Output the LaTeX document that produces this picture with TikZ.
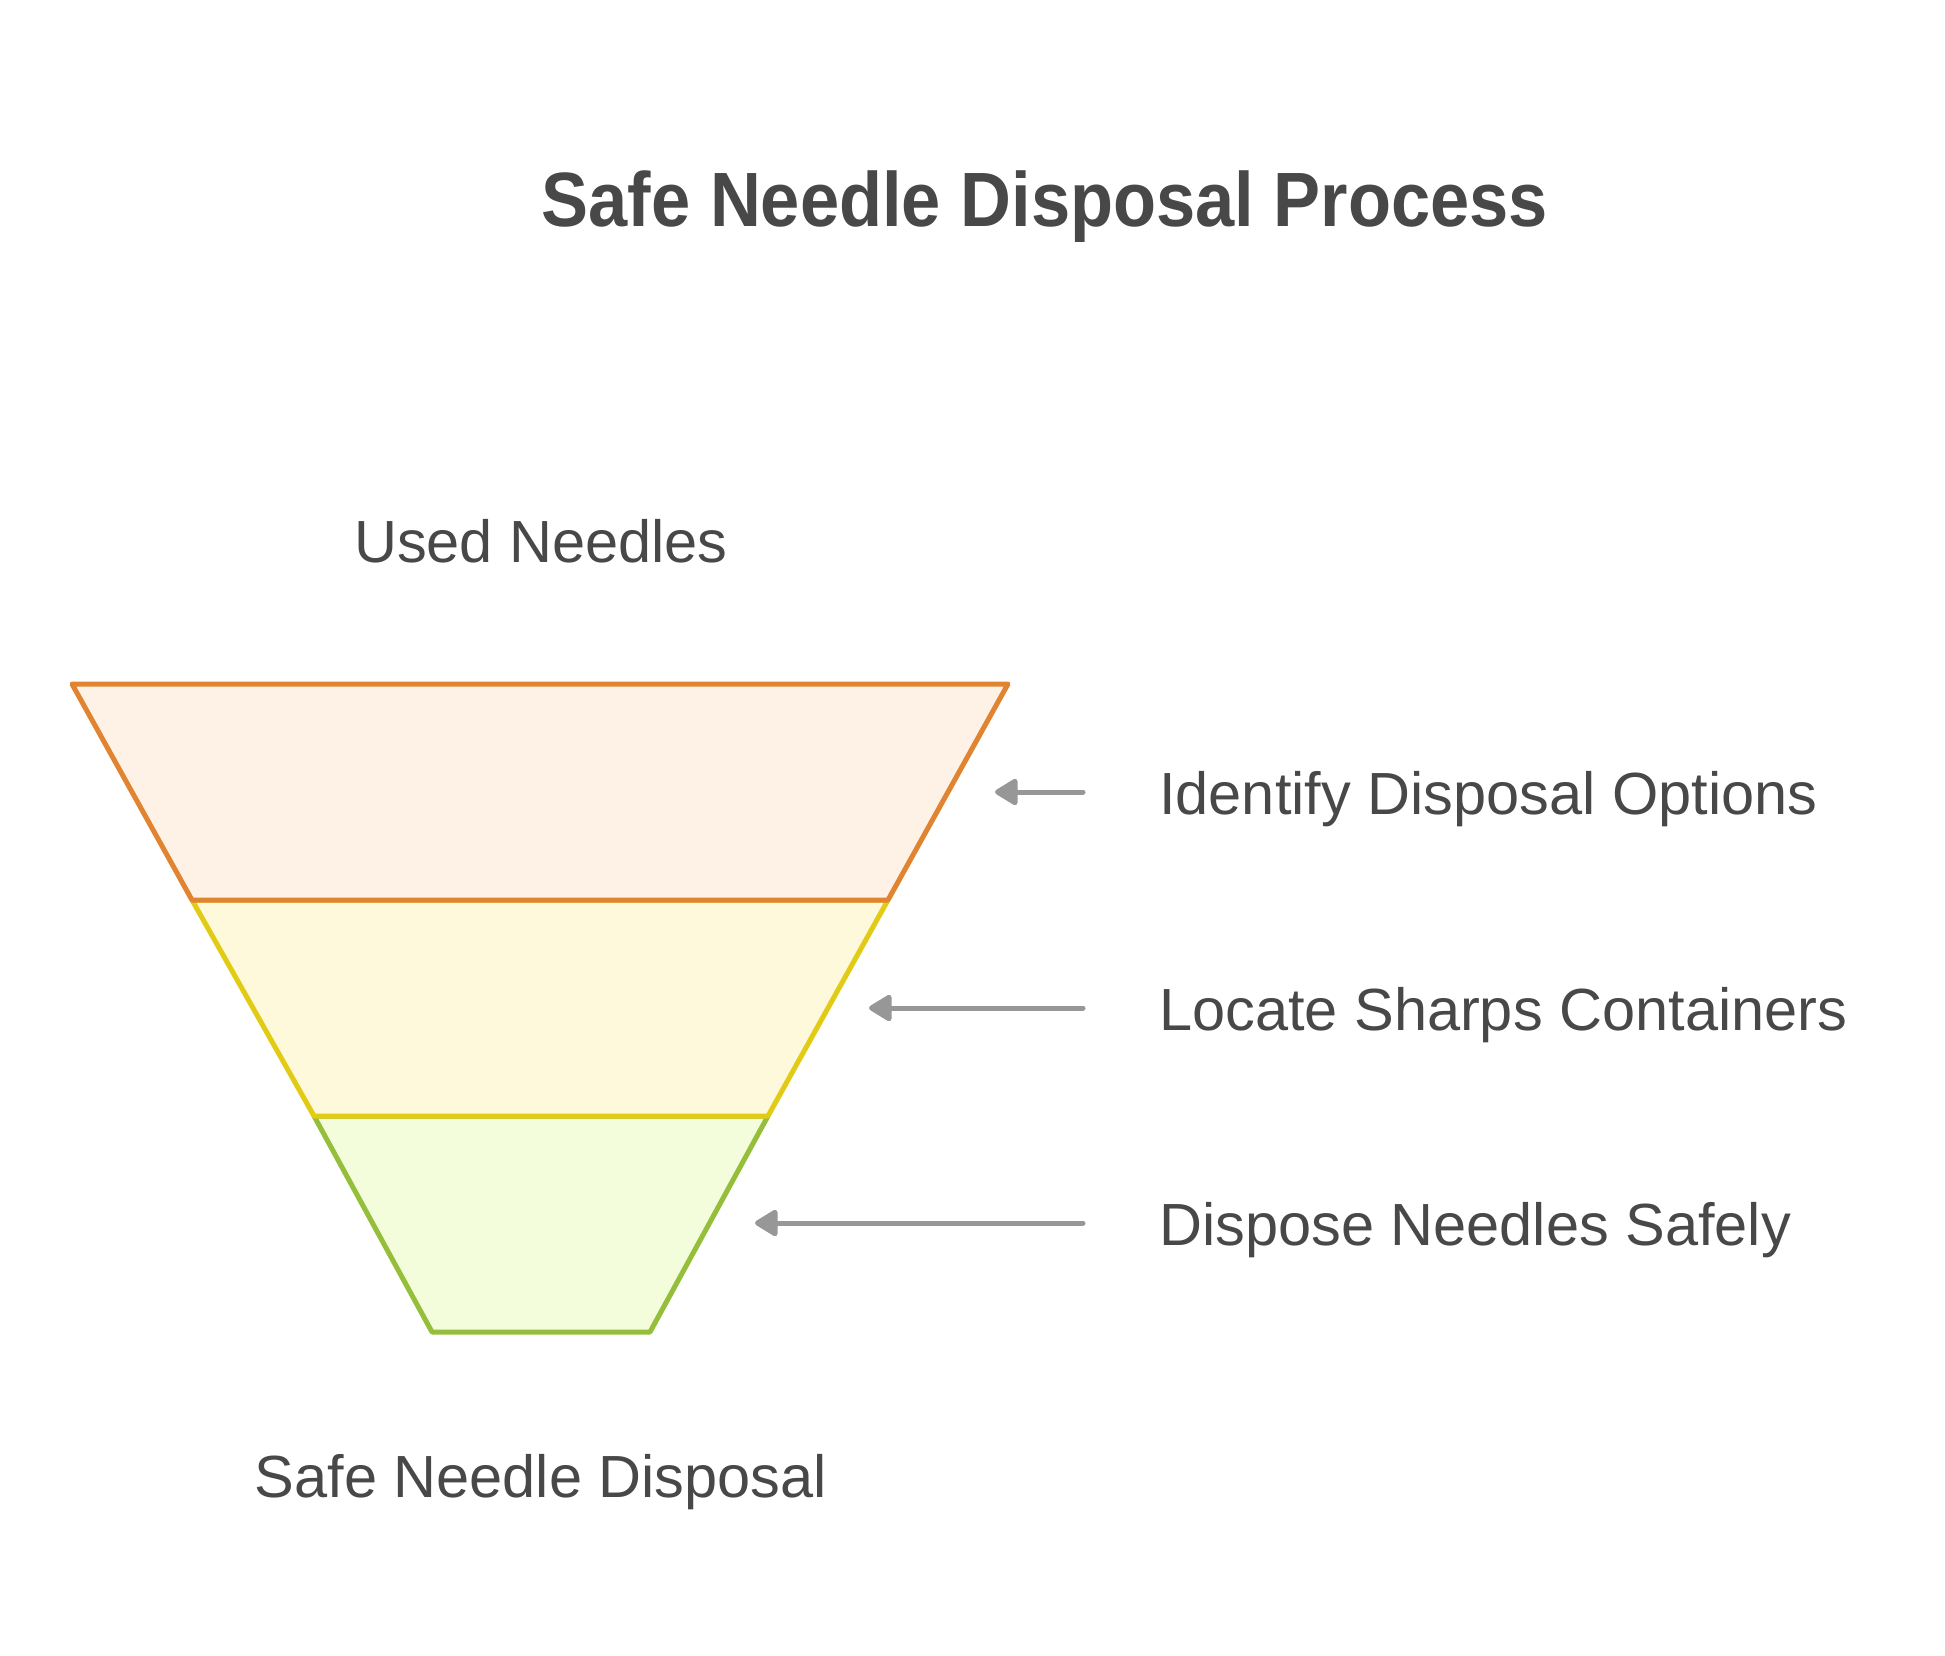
\documentclass[tikz,border=0pt]{standalone}
\usepackage{fontspec}
\setmainfont{Liberation Sans}
\usetikzlibrary{arrows.meta}
\definecolor{txt}{HTML}{484848}
\definecolor{arr}{HTML}{979797}
\definecolor{orS}{HTML}{E08431}
\definecolor{orF}{HTML}{FEF2E6}
\definecolor{yeS}{HTML}{E2CB14}
\definecolor{yeF}{HTML}{FEF9DB}
\definecolor{grS}{HTML}{95BE3B}
\definecolor{grF}{HTML}{F3FDDB}
\tikzset{
  band/.style={line width=5pt, line join=round},
  lbl/.style={inner sep=0pt, text=txt, font=\fontsize{59.5}{70}\selectfont},
  ttl/.style={inner sep=0pt, text=txt, font=\fontsize{77}{90}\selectfont\bfseries},
  conn/.style={draw=arr, line width=5pt, line cap=round, -{Triangle[length=25pt,width=29pt,round]}}
}
\begin{document}
\begin{tikzpicture}[x=1pt,y=-1pt]
\useasboundingbox (0,0) rectangle (1945,1656);
% funnel bands (bottom first so upper outlines lie on top)
\draw[band, draw=grS, fill=grF] (314,1116) -- (768,1116) -- (650,1332) -- (432,1332) -- cycle;
\draw[band, draw=yeS, fill=yeF] (192,900) -- (888,900) -- (768,1116) -- (314,1116) -- cycle;
\draw[band, draw=orS, fill=orF] (72,684) -- (1008,684) -- (888,900) -- (192,900) -- cycle;
% texts
\node[ttl, anchor=base] (title) at (1045,226) {\scalebox{0.915}[1]{Safe Needle Disposal Process}};
\node[lbl, anchor=base] (top) at (541,562) {Used Needles};
\node[lbl, anchor=base] (bottom) at (541,1497) {Safe Needle Disposal};
\node[lbl, anchor=base west] (s1) at (1159,814) {Identify Disposal Options};
\node[lbl, anchor=base west] (s2) at (1159,1030) {Locate Sharps Containers};
\node[lbl, anchor=base west] (s3) at (1159,1245) {Dispose Needles Safely};
% connectors
\coordinate (a1s) at (1083,792); \coordinate (a1e) at (995,792);
\coordinate (a2s) at (1083,1008); \coordinate (a2e) at (869,1008);
\coordinate (a3s) at (1083,1223); \coordinate (a3e) at (755,1223);
\draw[conn] (a1s) -- (a1e);
\draw[conn] (a2s) -- (a2e);
\draw[conn] (a3s) -- (a3e);
\end{tikzpicture}
\end{document}
